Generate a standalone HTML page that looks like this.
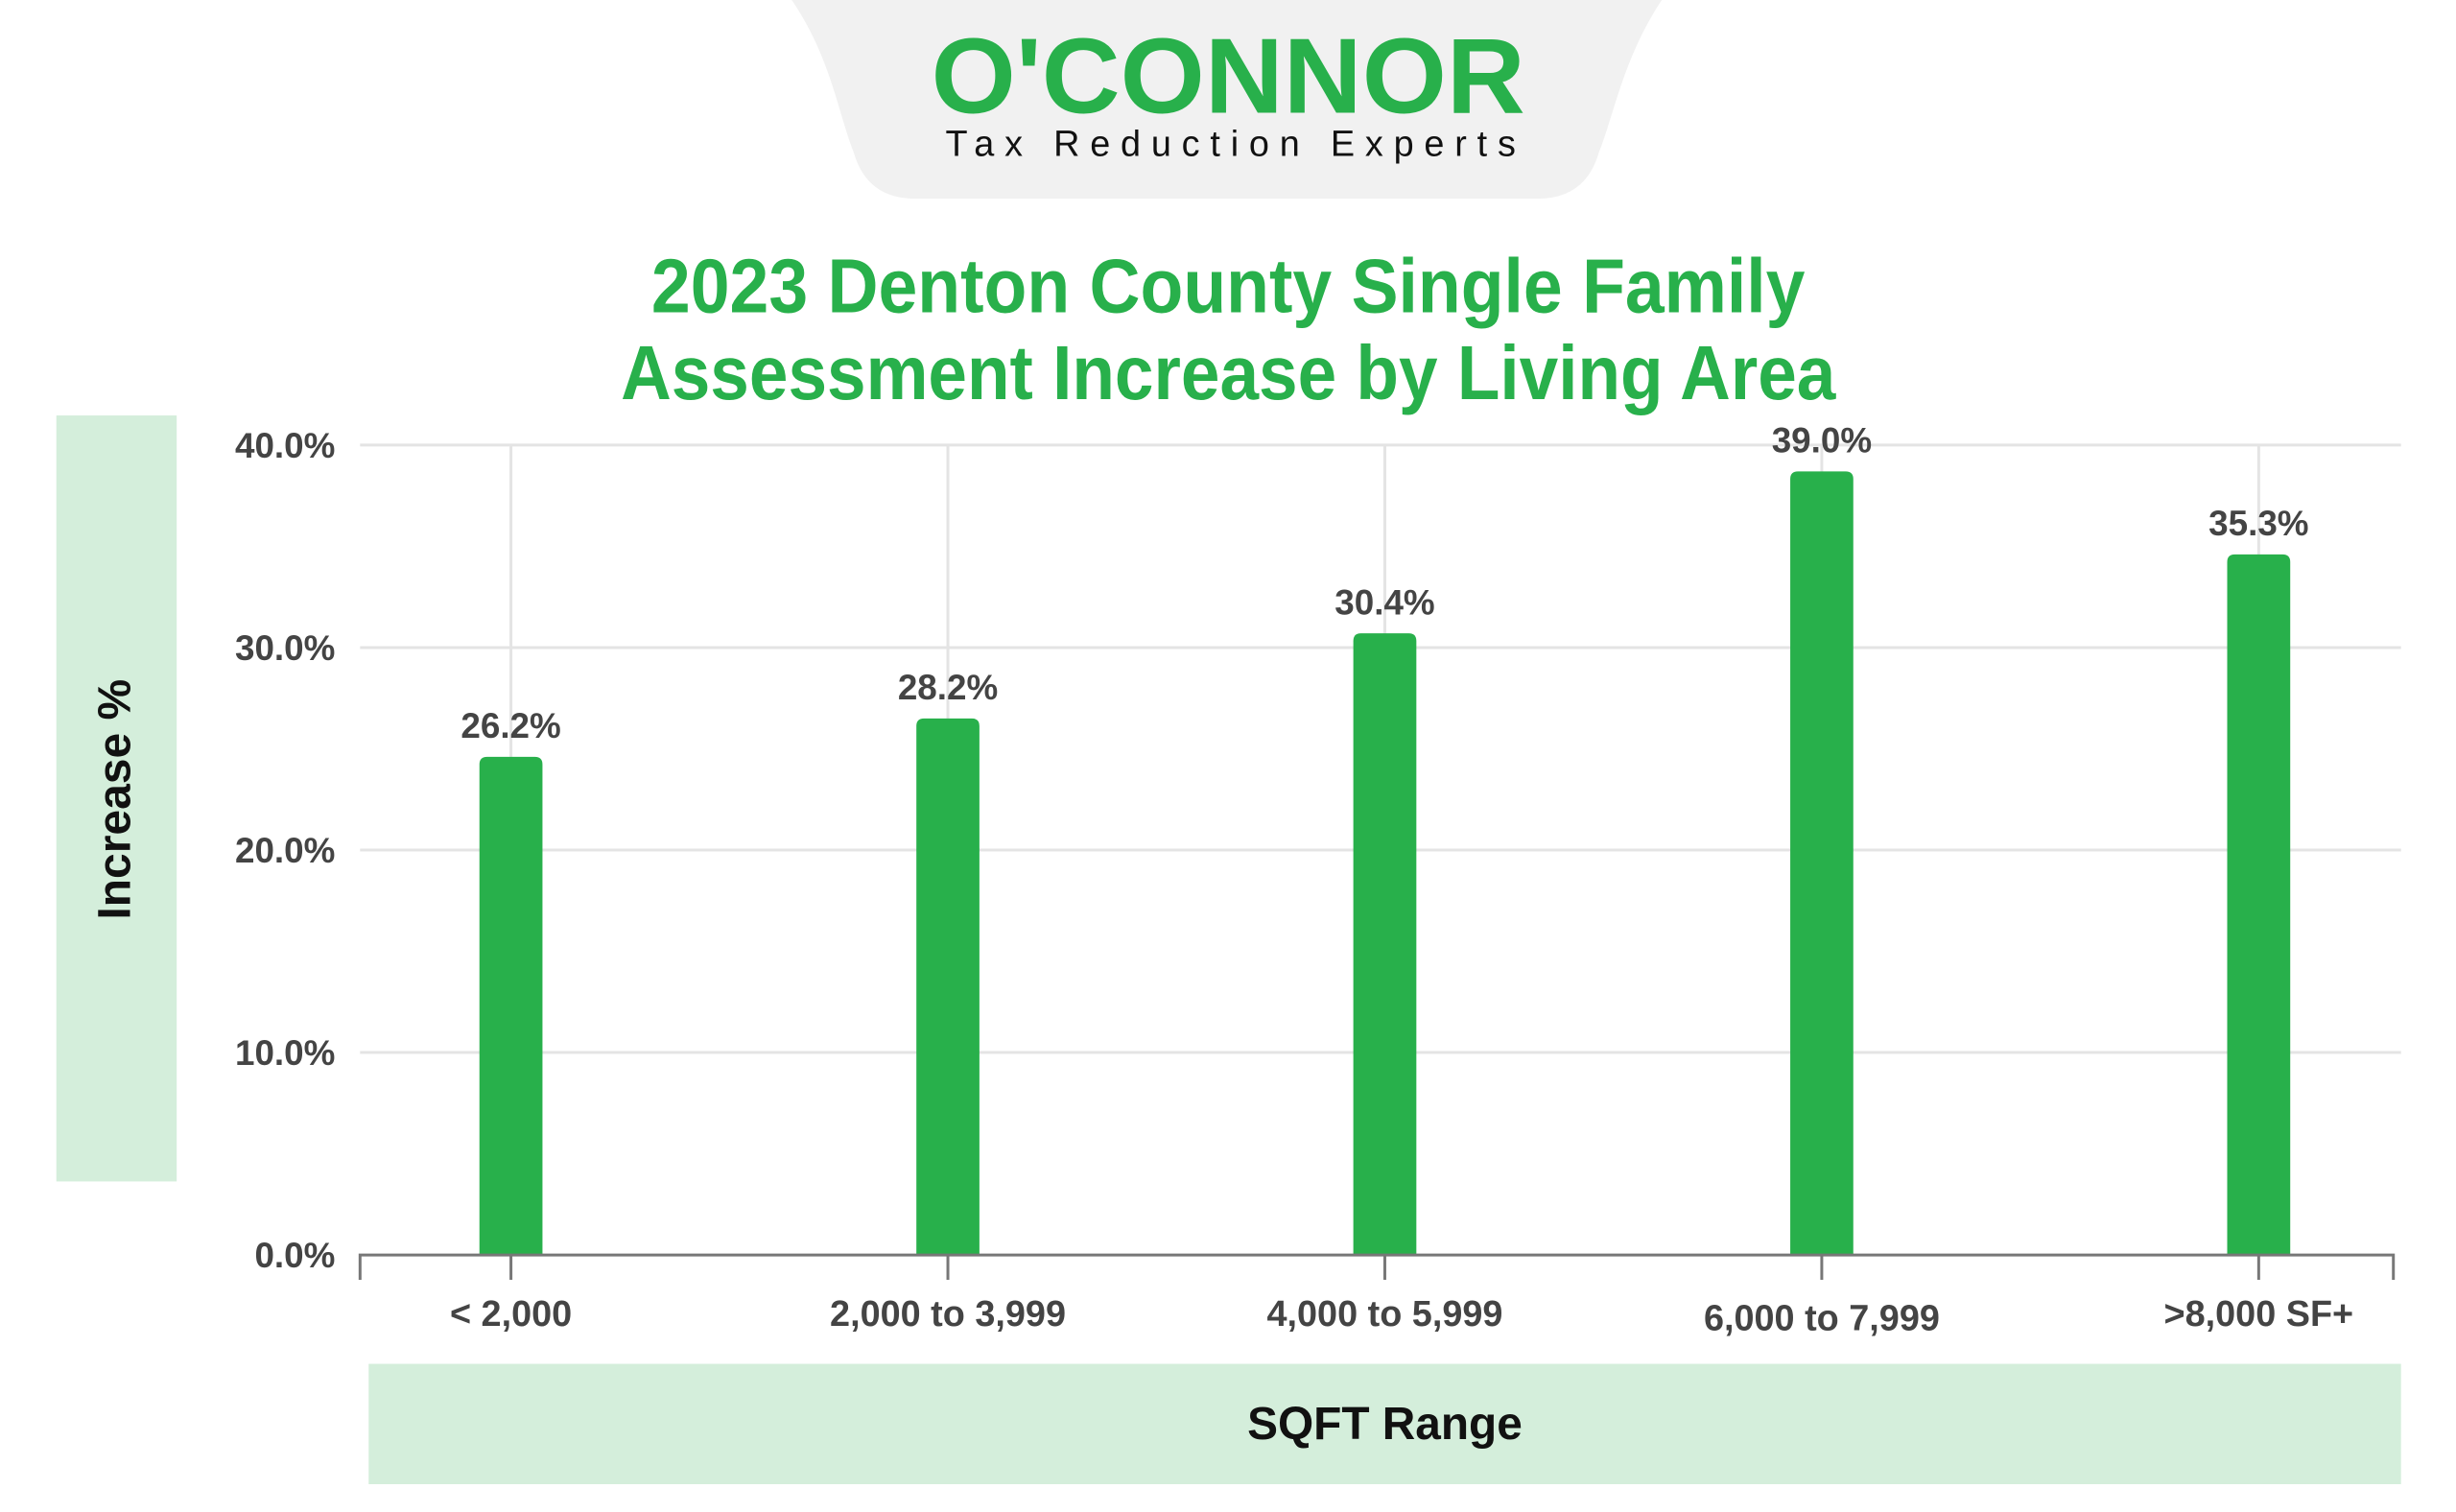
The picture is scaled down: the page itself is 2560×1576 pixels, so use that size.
<!DOCTYPE html>
<html><head><meta charset="utf-8"><style>
html,body{margin:0;padding:0;background:#fff;}
svg{display:block;font-family:"Liberation Sans",sans-serif;}
</style></head><body>
<svg id="chart" width="2560" height="1576" viewBox="0 0 2560 1576">
 <g transform="scale(0.9955)">
  <path d="M829,0 L1740,0 C1700,60 1690,120 1674,160 Q1660,208 1610,208 L958,208 Q908,208 894,160 C878,120 870,60 829,0 Z" fill="#f1f1f1"/>
  <text x="975" y="118" textLength="622" lengthAdjust="spacingAndGlyphs" font-size="112" font-weight="bold" fill="#28b04b">O'CONNOR</text>
  <text x="990" y="163" textLength="597" lengthAdjust="spacing" font-size="38" fill="#111">Tax Reduction Experts</text>
  <text x="1286" y="327" text-anchor="middle" textLength="1208" lengthAdjust="spacingAndGlyphs" font-size="80" font-weight="bold" fill="#28b04b">2023 Denton County Single Family</text>
  <text x="1286" y="418" text-anchor="middle" textLength="1272" lengthAdjust="spacingAndGlyphs" font-size="80" font-weight="bold" fill="#28b04b">Assessment Increase by Living Area</text>
  <rect x="59" y="435" width="126" height="802" fill="#d4eedb"/>
  <text transform="translate(136,837) rotate(-90)" text-anchor="middle" textLength="252" lengthAdjust="spacingAndGlyphs" font-size="48" font-weight="bold" fill="#111">Increase %</text>
  <rect x="386" y="1428" width="2128" height="126" fill="#d4eedb"/>
  <text x="1450" y="1507" text-anchor="middle" textLength="288" lengthAdjust="spacingAndGlyphs" font-size="48" font-weight="bold" fill="#111">SQFT Range</text>
  <g id="grid"></g><g id="bars"></g><g id="axis"></g>
 </g>
</svg>
<script>
const categories = ["< 2,000", "2,000 to 3,999", "4,000 to 5,999", "6,000 to 7,999", ">8,000 SF+"];
const values = [24.6, 26.5, 30.7, 38.7, 34.6];
const valueLabels = ["26.2%", "28.2%", "30.4%", "39.0%", "35.3%"];
const yTicks = [0, 10, 20, 30, 40];
const yTickLabels = ["0.0%", "10.0%", "20.0%", "30.0%", "40.0%"];

const NS = "http://www.w3.org/2000/svg";
const X0 = 377, X1 = 2506, Y0 = 1314, Y40 = 466;
const y = v => Y0 - (v / 40) * (Y0 - Y40);
const x = i => X0 + 158 + i * 457.5;
function mk(tag, attrs, parent, txt) {
  const e = document.createElementNS(NS, tag);
  for (const k in attrs) e.setAttribute(k, attrs[k]);
  if (txt !== undefined) e.textContent = txt;
  parent.appendChild(e); return e;
}
const grid = document.getElementById("grid"), bars = document.getElementById("bars"), axis = document.getElementById("axis");
yTicks.forEach((t, i) => {
  if (t > 0) {
    const l = mk("line", {x1: X0, x2: 2514, y1: y(t), y2: y(t), stroke: "#e4e4e4", "stroke-width": 3}, grid);
    
    
  }
  const tl = mk("text", {x: 351, y: y(t) + 13, "text-anchor": "end", "font-size": 37, "font-weight": "bold", fill: "#444"}, axis, yTickLabels[i]);
  
  
});
categories.forEach((c, i) => {
  const cx = x(i);
  const vl = mk("line", {x1: cx, x2: cx, y1: Y40, y2: Y0, stroke: "#e4e4e4", "stroke-width": 3}, grid);
  
  
  const top = y(values[i]);
  const b = mk("path", {d: `M${cx-33},${Y0} L${cx-33},${top+8} Q${cx-33},${top} ${cx-25},${top} L${cx+25},${top} Q${cx+33},${top} ${cx+33},${top+8} L${cx+33},${Y0} Z`, fill: "#28b04b"}, bars);
  
  
  const lb = mk("text", {x: cx, y: top - 20, "text-anchor": "middle", "font-size": 37, "font-weight": "bold", fill: "#444"}, bars, valueLabels[i]);
  
  
  const tk = mk("line", {x1: cx, x2: cx, y1: Y0, y2: Y0 + 26, stroke: "#777", "stroke-width": 3}, axis);
  
  
  const cl = mk("text", {x: cx, y: Y0 + 74 + (i === 3 ? 5 : 0), "text-anchor": "middle", "font-size": 38, "font-weight": "bold", fill: "#444"}, axis, c);
  
  
});
const ax = mk("path", {d: `M${X0},${Y0+26} L${X0},${Y0} L${X1},${Y0} L${X1},${Y0+26}`, fill: "none", stroke: "#777", "stroke-width": 3}, axis);


</script>
</body></html>
